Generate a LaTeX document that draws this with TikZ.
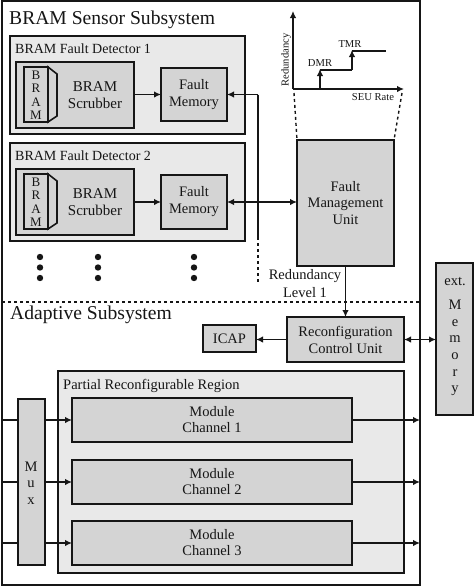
\documentclass[tikz,border=0pt]{standalone}
\usepackage{fontspec}
\setmainfont{Liberation Serif}
\newfontfamily\tnr{Liberation Serif}
\usetikzlibrary{arrows.meta}
\definecolor{lightbox}{HTML}{E9E9E9}
\definecolor{midbox}{HTML}{D4D4D4}
\definecolor{ink}{HTML}{161616}
\begin{document}
\begin{tikzpicture}[x=1pt,y=-1pt,
  box/.style={draw=ink, line width=1.8pt, anchor=north west, inner sep=0pt, outer sep=0pt},
  lbox/.style={box, fill=lightbox},
  mbox/.style={box, fill=midbox},
  txt/.style={text=ink, font=\tnr\fontsize{14.5}{17}\selectfont, align=center},
  bigtxt/.style={text=ink, font=\tnr\fontsize{19.6}{22}\selectfont, anchor=base west, inner sep=0pt},
  midtxt/.style={text=ink, font=\tnr\fontsize{14}{16}\selectfont, anchor=base west, inner sep=0pt},
  smalltxt/.style={text=ink, font=\tnr\fontsize{10.6}{12}\selectfont, inner sep=0pt},
  lettertxt/.style={text=ink, font=\tnr\fontsize{13}{13.5}\selectfont, align=center, inner sep=0pt},
  conn/.style={draw=ink, line width=1.6pt},
  arr/.style={conn, -{Latex[length=7pt,width=6.5pt]}},
  darr/.style={conn, {Latex[length=7pt,width=6.5pt]}-{Latex[length=7pt,width=6.5pt]}},
  dotline/.style={draw=ink, line width=1.4pt, dash pattern=on 3pt off 3pt}
]
\useasboundingbox (0,0) rectangle (474,587);

% outer frame
\node[box, fill=white, line width=2.4pt, minimum width=418pt, minimum height=584pt] (outer) at (2,1) {};
\node[bigtxt] (title1) at (9,24) {BRAM Sensor Subsystem};

% fault detector 1
\node[lbox, minimum width=235pt, minimum height=98pt] (fd1) at (10,36) {};
\node[midtxt] (fd1l) at (15,53) {BRAM Fault Detector 1};
\node[mbox, minimum width=118pt, minimum height=66pt] (scr1) at (16,62) {};
\filldraw[draw=ink, fill=midbox, line width=1.6pt] (24,67) rectangle (48,122);
\filldraw[draw=ink, fill=midbox, line width=1.6pt] (48,67) -- (57,74) -- (57,116) -- (48,122) -- cycle;
\node[lettertxt] (br1) at (36,95) {B\\R\\A\\M};
\node[txt, font=\tnr\fontsize{15}{16.5}\selectfont] (scr1t) at (95,95) {BRAM\\Scrubber};
\node[mbox, minimum width=66pt, minimum height=53pt, txt] (fm1) at (161,68) {Fault\\Memory};
\draw[arr] (scr1.east |- fm1.east) -- (fm1.west);

% fault detector 2
\node[lbox, minimum width=235pt, minimum height=98pt] (fd2) at (10,143) {};
\node[midtxt] (fd2l) at (15,160) {BRAM Fault Detector 2};
\node[mbox, minimum width=118pt, minimum height=66pt] (scr2) at (16,169) {};
\filldraw[draw=ink, fill=midbox, line width=1.6pt] (24,174) rectangle (48,229);
\filldraw[draw=ink, fill=midbox, line width=1.6pt] (48,174) -- (57,181) -- (57,223) -- (48,229) -- cycle;
\node[lettertxt] (br2) at (36,202) {B\\R\\A\\M};
\node[txt, font=\tnr\fontsize{15}{16.5}\selectfont] (scr2t) at (95,202) {BRAM\\Scrubber};
\node[mbox, minimum width=66pt, minimum height=54pt, txt] (fm2) at (161,175) {Fault\\Memory};
\draw[arr] (scr2.east |- fm2.east) -- (fm2.west);

% dots
\foreach \x in {40,98,194}{
  \foreach \y in {257,267.5,278}{
    \fill[ink] (\x,\y) circle (3.2pt);
  }
}

% fault management unit
\node[mbox, minimum width=97pt, minimum height=126pt, txt, font=\tnr\fontsize{14.5}{16.5}\selectfont] (fmu) at (297,140) {Fault\\Management\\Unit};

% feedback line
\coordinate (fbtop) at (258,95);
\coordinate (fbmid) at (258,237);
\coordinate (fbbot) at (258,283);
\draw[arr] (fm1.east -| fbtop) -- (fm1.east);
\draw[conn] (fm1.east -| fbtop) -- (fbmid);
\draw[dotline] (fbmid) -- (fbbot);
\draw[darr] (fm2.east) -- (fmu.west |- fm2.east);

% graph
\coordinate (O) at (293,89);
\draw[arr] (O) -- (293,11);
\draw[arr] (O) -- (404,89);
\draw[arr] (320,89) -- (320,69);
\draw[conn] (320,70) -- (352,70);
\draw[arr] (352,70) -- (352,50);
\draw[conn] (352,51) -- (386,51);
\node[smalltxt, rotate=90] (ylab) at (286,60) {Redundancy};
\node[smalltxt] (xlab) at (373,97) {SEU Rate};
\node[smalltxt] (dmr) at (320,63) {DMR};
\node[smalltxt] (tmr) at (350,44) {TMR};
\draw[dotline] (294,93) -- (fmu.north west);
\draw[dotline] (402,93) -- (fmu.north east);

% redundancy level
\node[txt, font=\tnr\fontsize{14.5}{18}\selectfont] (rl) at (305,284) {Redundancy\\Level 1};

% separator
\draw[dotline] (outer.west |- 0,302) -- (outer.east |- 0,302);
\node[bigtxt] (title2) at (10,319) {Adaptive Subsystem};

% reconfiguration control unit
\node[mbox, minimum width=117pt, minimum height=45pt, txt] (rcu) at (287,317) {Reconfiguration\\Control Unit};
\draw[arr] (fmu.south) -- (rcu.north);
\node[mbox, minimum width=53pt, minimum height=27pt, txt] (icap) at (203,325) {ICAP};
\draw[arr] (rcu.west) -- (icap.east |- rcu.west);

% external memory
\node[mbox, minimum width=37pt, minimum height=152pt] (ext) at (436,263) {};
\node[txt] (extt) at (455,282) {ext.};
\node[txt, font=\tnr\fontsize{14.5}{16.6}\selectfont] (memt) at (455,348) {M\\e\\m\\o\\r\\y};
\draw[darr] (rcu.east) -- (ext.west |- rcu.east);

% partial reconfigurable region
\node[lbox, minimum width=346pt, minimum height=202pt] (prr) at (58,371) {};
\node[txt, anchor=base west, inner sep=0pt] (prrl) at (63,389) {Partial Reconfigurable Region};
\node[mbox, minimum width=280pt, minimum height=44pt, txt, font=\tnr\fontsize{14.5}{16}\selectfont] (mod1) at (72,398) {Module\\Channel 1};
\node[mbox, minimum width=280pt, minimum height=44pt, txt, font=\tnr\fontsize{14.5}{16}\selectfont] (mod2) at (72,460) {Module\\Channel 2};
\node[mbox, minimum width=280pt, minimum height=44pt, txt, font=\tnr\fontsize{14.5}{16}\selectfont] (mod3) at (72,521) {Module\\Channel 3};

% mux
\node[mbox, minimum width=27pt, minimum height=166pt] (mux) at (18,399) {};
\node[txt, font=\tnr\fontsize{14.5}{16.5}\selectfont] (muxt) at (31,483) {M\\u\\x};

\foreach \m in {mod1,mod2,mod3}{
  \draw[conn] (outer.west |- \m.west) -- (mux.west |- \m.west);
  \draw[arr] (mux.east |- \m.west) -- (\m.west);
  \draw[arr] (\m.east) -- (outer.east |- \m.east);
}
\end{tikzpicture}
\end{document}
